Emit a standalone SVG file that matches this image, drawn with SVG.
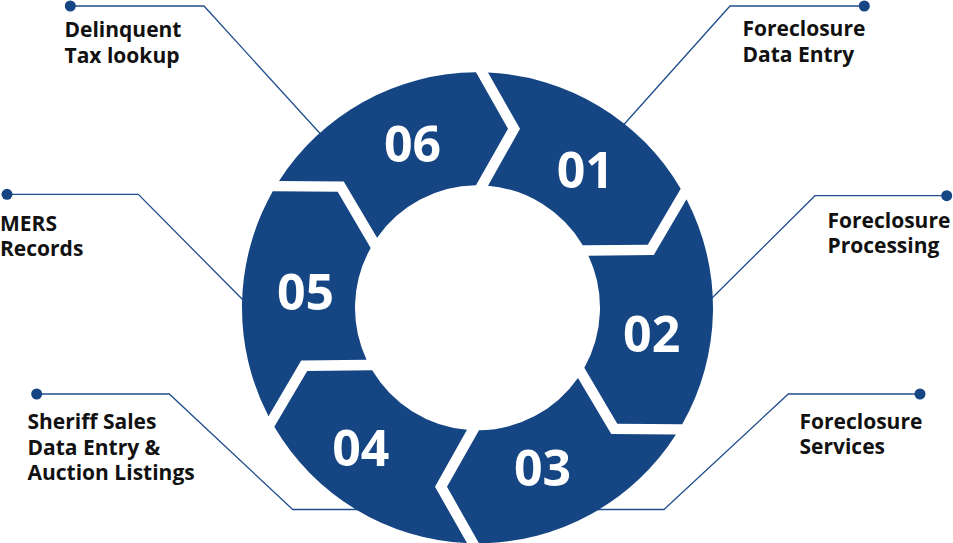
<svg xmlns="http://www.w3.org/2000/svg" width="953" height="543" viewBox="0 0 953 543">
<style>
.seg{fill:#164584}
.num{font-family:"Open Sans","Noto Sans","Liberation Sans",sans-serif;font-weight:700;font-size:50px;fill:#ffffff;text-anchor:middle}
.lbl{font-family:"Open Sans","Noto Sans","Liberation Sans",sans-serif;font-weight:700;font-size:21px;fill:#111111}
.con{fill:none;stroke:#1f4e8c;stroke-width:1.3}
.dot{fill:#164584}
</style>
<defs>
<path id="segShape" d="M 488 72.53 A 235.5 235.5 0 0 1 680.7 188.75 L 647.8 244.7 L 582.8 245.25 A 122.5 122.5 0 0 0 488 185.75 L 520 128.8 Z"/>
</defs>
<g id="connectors">
<path class="con" d="M 70.3 6 H 204 L 326 140"/>
<path class="con" d="M 864.3 6 H 730 L 619 130"/>
<path class="con" d="M 7 194.3 H 138.3 L 248 305"/>
<path class="con" d="M 946.7 195.7 H 815 L 705 305"/>
<path class="con" d="M 36.7 394 H 169.3 L 292.7 509.5 H 365"/>
<path class="con" d="M 920 394 H 788.3 L 664 509.5 H 590"/>
<circle class="dot" cx="70.3" cy="6" r="5.5"/>
<circle class="dot" cx="864.3" cy="6" r="5.5"/>
<circle class="dot" cx="7" cy="194.3" r="5.5"/>
<circle class="dot" cx="946.7" cy="195.7" r="5.5"/>
<circle class="dot" cx="36.7" cy="394" r="5.5"/>
<circle class="dot" cx="920" cy="394" r="5.5"/>
</g>
<g id="step01">
<use href="#segShape" class="seg"/>
<text class="num" x="585.3" y="187.7">01</text>
<text class="lbl" x="742.5" y="36">Foreclosure</text>
<text class="lbl" x="742.5" y="62">Data Entry</text>
</g>
<g id="step02">
<use href="#segShape" class="seg" transform="rotate(60 477.5 307.8)"/>
<text class="num" x="651.7" y="351.7">02</text>
<text class="lbl" x="827.5" y="228.3">Foreclosure</text>
<text class="lbl" x="827.5" y="253.3">Processing</text>
</g>
<g id="step03">
<use href="#segShape" class="seg" transform="rotate(120 477.5 307.8)"/>
<text class="num" x="542.5" y="485.7">03</text>
<text class="lbl" x="799.5" y="429.3">Foreclosure</text>
<text class="lbl" x="799.5" y="454">Services</text>
</g>
<g id="step04">
<use href="#segShape" class="seg" transform="rotate(180 477.5 307.8)"/>
<text class="num" x="360.8" y="465.7">04</text>
<text class="lbl" x="27.5" y="429.3">Sheriff Sales</text>
<text class="lbl" x="27.5" y="455">Data Entry &amp;</text>
<text class="lbl" x="27.5" y="480">Auction Listings</text>
</g>
<g id="step05">
<use href="#segShape" class="seg" transform="rotate(240 477.5 307.8)"/>
<text class="num" x="305.5" y="310">05</text>
<text class="lbl" x="0" y="230.7">MERS</text>
<text class="lbl" x="0" y="256">Records</text>
</g>
<g id="step06">
<use href="#segShape" class="seg" transform="rotate(300 477.5 307.8)"/>
<text class="num" x="412.5" y="161.7">06</text>
<text class="lbl" x="64.5" y="36.7">Delinquent</text>
<text class="lbl" x="64.5" y="62.7">Tax lookup</text>
</g>
</svg>
